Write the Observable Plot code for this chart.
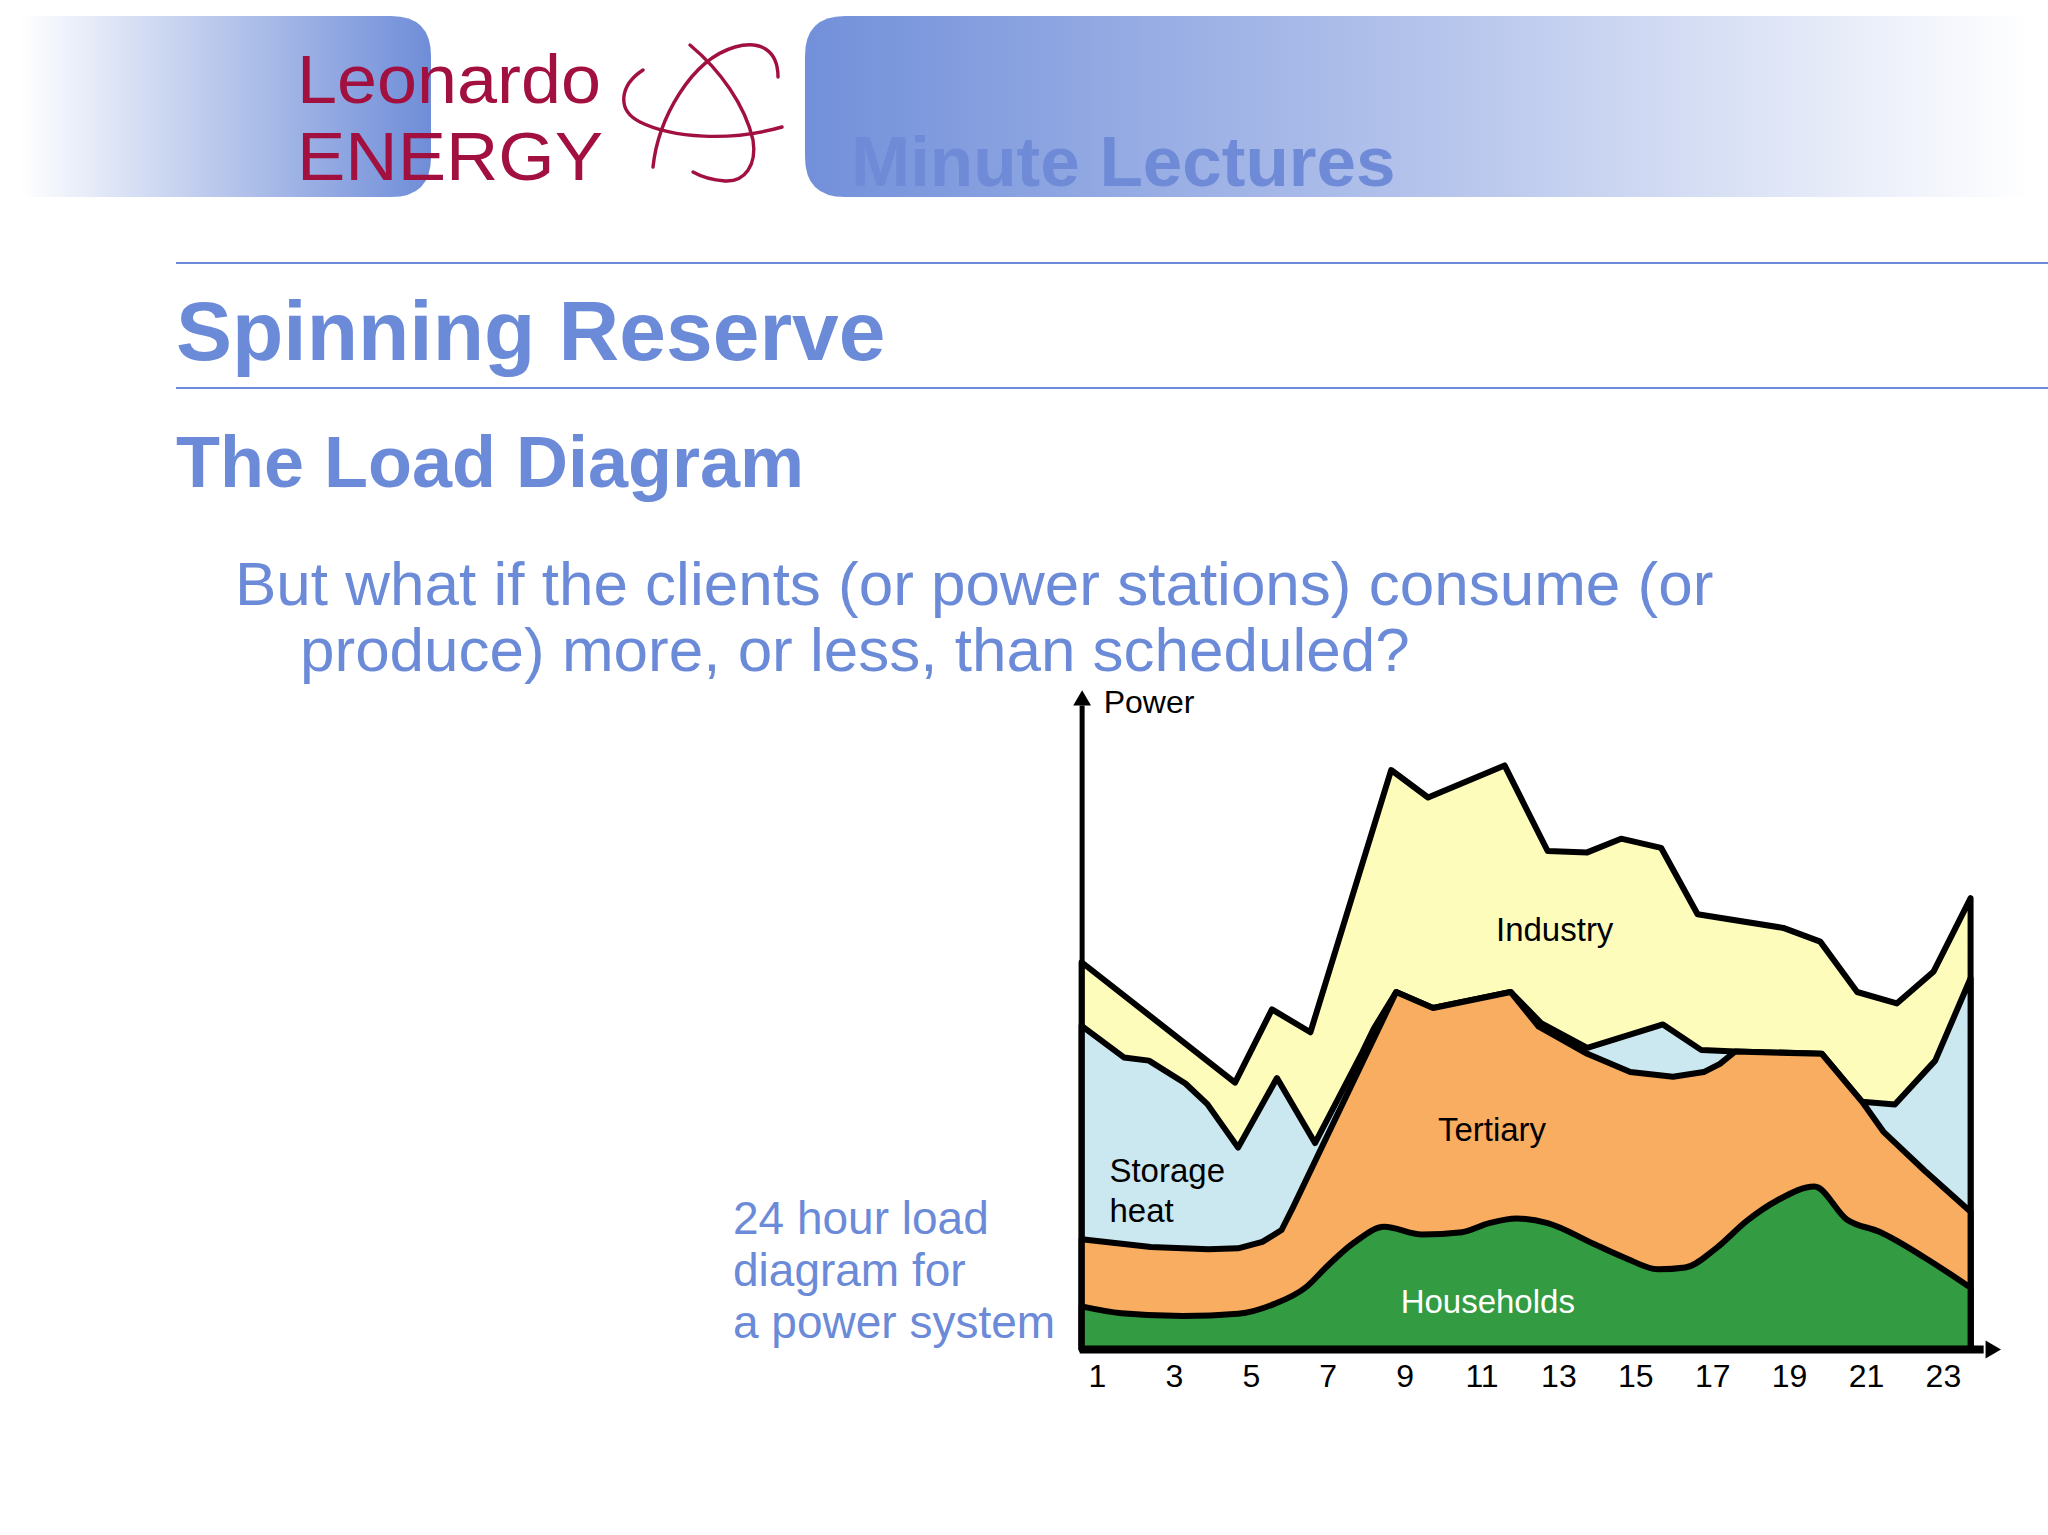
<!DOCTYPE html>
<html>
<head>
<meta charset="utf-8">
<script src="https://cdn.jsdelivr.net/npm/d3@7"></script>
<script src="https://cdn.jsdelivr.net/npm/@observablehq/plot@0.6"></script>
<style>
html, body { margin: 0; padding: 0; background: #ffffff; }
body { width: 2048px; height: 1535px; position: relative; overflow: hidden; font-family: "Liberation Sans", Arial, sans-serif; }
#bg { position: absolute; left: 0; top: 0; }
#chart { position: absolute; left: 1000px; top: 650px; }
</style>
</head>
<body>
<svg id="bg" width="2048" height="1535" xmlns="http://www.w3.org/2000/svg">
  <defs>
    <linearGradient id="gLeft" x1="20" x2="431" y1="0" y2="0" gradientUnits="userSpaceOnUse">
      <stop offset="0" stop-color="#ffffff"/>
      <stop offset="0.3" stop-color="#d3dcf3"/>
      <stop offset="1" stop-color="#6f8dd8"/>
    </linearGradient>
    <linearGradient id="gRight" x1="805" x2="2030" y1="0" y2="0" gradientUnits="userSpaceOnUse">
      <stop offset="0" stop-color="#7290da"/>
      <stop offset="0.55" stop-color="#bac8ed"/>
      <stop offset="1" stop-color="#ffffff"/>
    </linearGradient>
  </defs>
  <path d="M20,16 H391 Q431,16 431,56 V157 Q431,197 391,197 H20 Z" fill="url(#gLeft)"/>
  <path d="M845,16 H2030 V197 H845 Q805,197 805,157 V56 Q805,16 845,16 Z" fill="url(#gRight)"/>
  <text x="851" y="186" font-family="Liberation Sans, Arial, sans-serif" font-weight="bold" font-size="71" fill="#6f8ad6">Minute Lectures</text>
  <g fill="#a2103f" font-family="Liberation Sans, Arial, sans-serif">
    <text x="297" y="103" font-size="68" textLength="304" lengthAdjust="spacingAndGlyphs">Leonardo</text>
    <text x="297" y="180" font-size="68" textLength="306" lengthAdjust="spacingAndGlyphs">ENERGY</text>
  </g>
  <g fill="none" stroke="#a2103f" stroke-width="3.4" stroke-linecap="round">
    <path d="M643,70 C620,85 616,110 640,122 C672,138 730,142 782,127"/>
    <path d="M653,167 C658,120 690,60 735,47 C760,40 778,50 778,77"/>
    <path d="M690,45 C720,70 745,105 753,140 C757,165 745,182 725,181 C712,180 700,176 693,172"/>
  </g>
  <line x1="176" x2="2048" y1="263" y2="263" stroke="#6d8bd8" stroke-width="2"/>
  <line x1="176" x2="2048" y1="388" y2="388" stroke="#6d8bd8" stroke-width="2"/>
  <g font-family="Liberation Sans, Arial, sans-serif" fill="#6b8ad8">
    <text x="176" y="360" font-size="84" font-weight="bold">Spinning Reserve</text>
    <text x="176" y="487" font-size="72" font-weight="bold">The Load Diagram</text>
    <text x="235" y="605" font-size="62">But what if the clients (or power stations) consume (or</text>
    <text x="300" y="671" font-size="62">produce) more, or less, than scheduled?</text>
    <text x="733" y="1234" font-size="46">24 hour load</text>
    <text x="733" y="1286" font-size="46">diagram for</text>
    <text x="733" y="1338" font-size="46">a power system</text>
  </g>
</svg>
<div id="chart"></div>
<script>
// Hours shown on the x axis
const tickHours = [1, 3, 5, 7, 9, 11, 13, 15, 17, 19, 21, 23];

// Cumulative load boundaries (top of each stacked layer)
const industryHours = [0.6, 4.59, 5.55, 6.55, 8.65, 9.61, 11.6, 12.72, 13.75, 14.63, 15.67, 16.62, 18.85, 19.81, 20.77, 21.8, 22.76, 23.72];
const industryTop   = [84.5, 58.2, 74.2, 69.2, 126.5, 120.5, 127.5, 108.8, 108.5, 111.5, 109.5, 95.0, 92.0, 89.0, 78.0, 75.5, 82.5, 98.5];

const storageHours = [0.6, 1.7, 2.35, 3.3, 3.87, 4.67, 5.68, 6.67, 7.9, 8.2, 8.78, 9.74, 11.76, 12.55, 13.75, 15.72, 16.72, 17.6, 19.85, 20.9, 21.75, 22.8, 23.72];
const storageTop   = [70.6, 63.7, 63.0, 58.0, 53.5, 44.0, 59.2, 45.0, 64.8, 70.0, 78.0, 74.5, 78.0, 71.2, 65.8, 70.9, 65.3, 65.0, 64.5, 54.0, 53.4, 63.0, 81.0];

const tertiaryHours = [0.6, 2.4, 3.9, 4.67, 5.3, 5.8, 6.1, 8.78, 9.74, 11.76, 12.48, 13.75, 14.87, 15.98, 16.78, 17.2, 17.6, 19.85, 20.9, 21.45, 22.52, 23.72];
const tertiaryTop   = [24.0, 22.3, 21.8, 22.0, 23.4, 26.0, 31.0, 78.0, 74.5, 78.0, 70.5, 64.5, 60.5, 59.5, 60.5, 62.3, 65.0, 64.5, 54.0, 47.5, 39.0, 30.0];

const householdsHours = [0.6, 1.64, 3.23, 4.67, 5.6, 6.45, 7.0, 7.68, 8.47, 9.45, 10.49, 11.2, 11.92, 12.72, 13.91, 14.71, 15.6, 16.3, 17.1, 17.9, 18.7, 19.66, 20.5, 21.35, 22.52, 23.72];
const householdsTop   = [9.3, 7.8, 7.2, 7.7, 9.8, 13.6, 18.2, 23.2, 26.7, 25.0, 25.5, 27.5, 28.5, 27.5, 23.0, 20.0, 17.4, 17.8, 22.0, 28.0, 32.5, 35.5, 28.3, 25.6, 20.0, 13.4];

const layerNames  = ["Industry", "Storage heat", "Tertiary", "Households"];
const layerColors = ["#fdfcbb", "#cbe8f1", "#f8ad61", "#339b41"];
const layerCurves = ["linear", "linear", "linear", "monotone-x"];
const layerHours  = [industryHours, storageHours, tertiaryHours, householdsHours];
const layerTops   = [industryTop, storageTop, tertiaryTop, householdsTop];

// Axis extents in data units
const axisStartHour = 0.6;
const axisEndHour = 24.56;
const powerAxisTop = 144.6;

const font = "Liberation Sans, Arial, sans-serif";

const layerMarks = layerNames.map((name, k) => {
  const data = layerHours[k].map((h, i) => ({hour: h, power: layerTops[k][i], layer: name}));
  return Plot.areaY(data, {
    x: "hour", y1: 0, y2: "power", curve: layerCurves[k],
    fill: layerColors[k], stroke: "black", strokeWidth: 6, strokeLinejoin: "round"
  });
});

const chart = Plot.plot({
  width: 1048,
  height: 780,
  marginTop: 10,
  marginBottom: 81,
  marginLeft: 58,
  marginRight: 66,
  x: {type: "linear", domain: [0, 24], range: [58.55, 981.35]},
  y: {type: "linear", domain: [0, 150], range: [699, 12.45], axis: null},
  style: {background: "transparent", color: "black", fontFamily: font, overflow: "visible", maxWidth: "none"},
  marks: [
    ...layerMarks,
    Plot.ruleY([0], {x1: axisStartHour - 0.05, x2: axisEndHour - 0.5, stroke: "black", strokeWidth: 8}),
    Plot.ruleX([axisStartHour], {y1: 0, y2: powerAxisTop - 4, stroke: "black", strokeWidth: 5}),
    Plot.dot([axisStartHour], {x: d => d, y: () => powerAxisTop - 2.8, symbol: "triangle2", r: 8.5, fill: "black", stroke: "none"}),
    Plot.dot([axisEndHour], {x: d => d - 0.33, y: () => 0, symbol: "triangle2", r: 8.5, rotate: 90, fill: "black", stroke: "none"}),
    Plot.axisX({ticks: tickHours, tickSize: 0, tickPadding: 15, fontSize: 32, label: null, tickFormat: d => String(d), fill: "black"}),
    Plot.text(["Power"], {x: () => 1.16, y: () => 141.2, text: d => d, textAnchor: "start", fontSize: 32, fill: "black"}),
    Plot.text(["Industry"], {x: () => 12.89, y: () => 91.5, text: d => d, fontSize: 33, fill: "black"}),
    Plot.text(["Tertiary"], {x: () => 11.26, y: () => 47.9, text: d => d, fontSize: 33, fill: "black"}),
    Plot.text(["Storage\nheat"], {x: () => 1.31, y: () => 35.05, text: d => d, textAnchor: "start", lineHeight: 1.2, fontSize: 33, fill: "black"}),
    Plot.text(["Households"], {x: () => 11.15, y: () => 10.3, text: d => d, fontSize: 33, fill: "white"})
  ]
});
document.getElementById("chart").appendChild(chart);
</script>
</body>
</html>
